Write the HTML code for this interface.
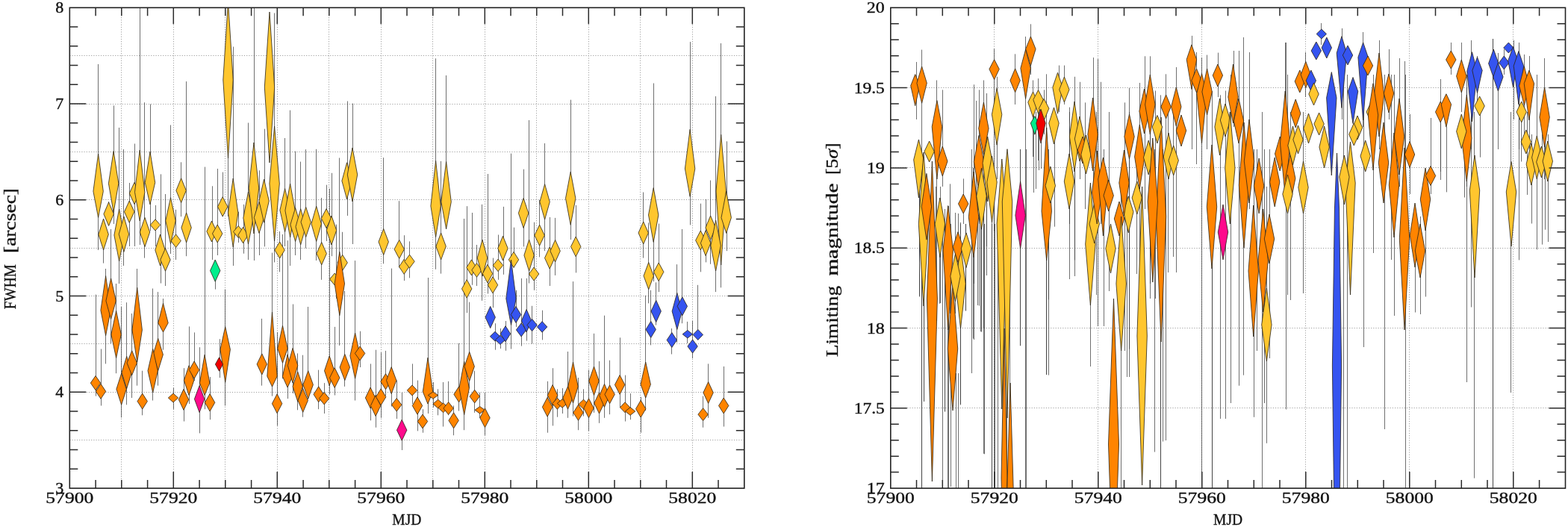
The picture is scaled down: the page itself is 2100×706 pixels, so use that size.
<!DOCTYPE html>
<html><head><meta charset="utf-8"><title>FWHM and limiting magnitude vs MJD</title>
<style>html,body{margin:0;padding:0;background:#fff;overflow:hidden;}svg{display:block;}
polygon{stroke:#2a2418;stroke-width:0.9;stroke-opacity:0.9;}text{white-space:pre;}</style></head>
<body>
<svg width="2100" height="706" viewBox="0 0 2100 706" font-family="'Liberation Serif', serif" font-size="20" fill="#111" stroke="#111" stroke-width="0.35">
<defs>
<clipPath id="cl"><rect x="93.3" y="10.3" width="903.5" height="643.8000000000001"/></clipPath>
<clipPath id="cr"><rect x="1192.8" y="10.3" width="903.7" height="643.8000000000001"/></clipPath>
</defs>
<g stroke-linejoin="miter">
<g><path d="M162.5 10.3V654.1M232.5 10.3V654.1M301.5 10.3V654.1M371.5 10.3V654.1M440.5 10.3V654.1M510.5 10.3V654.1M579.5 10.3V654.1M649.5 10.3V654.1M718.5 10.3V654.1M788.5 10.3V654.1M857.5 10.3V654.1M927.5 10.3V654.1M93.3 589.5H996.8M93.3 525.5H996.8M93.3 460.5H996.8M93.3 396.5H996.8M93.3 332.5H996.8M93.3 267.5H996.8M93.3 203.5H996.8M93.3 139.5H996.8M93.3 74.5H996.8" stroke="#a0a0a0" stroke-width="1" stroke-dasharray="1.2 2" fill="none"/>
<g clip-path="url(#cl)">
<path d="M128.5 394.6V530.6M131.5 86V335M135.5 467.5V543.5M138.5 294V352.6M141.5 360V487.4M145.5 270V300M148.5 307V460M152.5 141.4V300M155.5 380V500.2M159.5 171V380M162.5 411V559.4M165.5 200V356M169.5 405.2V542.3M173.5 245V330M176.5 420V533M180.5 192.5V330M183.5 360V516.6M187.5 10.5V328M190.5 496.7V556.3M193.5 137.2V345.6M201.5 139.5V309.3M204.5 386.5V536.5M208.5 275V330M211.5 391.1V516.6M215.5 233.4V379.5M218.5 400V468.7M221.5 260V383M228.5 167.5V340M232.5 519.6V548.2M235.5 280.9V348M242.5 217.3V290.2M246.5 493.2V564.5M249.5 109.1V343.2M253.5 437.4V541.1M260.5 445.4V510M267.5 465.2V580.4M274.5 223.6V548.2M281.5 505V562.2M284.5 249.3V348M288.5 350V387.6M291.5 226V342M294.5 454.2V506M298.5 230.6V290M301.5 387.6V543.5M305.5 212V290M312.5 62.6V356M319.5 283.7V325M326.5 273.9V339.7M332.5 164.5V348M340.5 10.5V349M347.5 228.3V342M350.5 426.9V516.6M354.5 172.7V330.4M364.5 338.6V530.6M367.5 17.5V351.4M371.5 445V570.4M374.5 310V364.3M378.5 314V507.3M381.5 185V330M385.5 322.2V534.1M388.5 147.7V356M392.5 407.5V527.1M395.5 202.6V342M398.5 473.4V549.3M402.5 216.6V348M405.5 475.7V558.7M409.5 200.2V332.7M412.5 411V535M423.5 199.8V349M426.5 495.6V548.2M430.5 265V374.8M434.5 513.1V554M437.5 247.7V323M441.5 252.8V528.3M444.5 231.8V343.2M448.5 437.9V529.5M450.5 300.7V400M454.5 211.5V462.9M458.5 310.8V363M461.5 390V517.8M465.5 135.5V289M472.5 138.6V327M475.5 349.1V536.5M482.5 443.7V492M496.5 487.4V563.3M503.5 468.7V572.7M510.5 472.2V559.8M513.5 211.2V353.3M516.5 469.9V530M524.5 359.6V544.6M531.5 509.6V561M534.5 269.2V358.4M538.5 526V603M541.5 315.2V376M548.5 323.4V372.4M552.5 487.4V541.1M559.5 509.6V577.4M566.5 548.2V579.7M573.5 372V554M580.5 512V545.8M583.5 78.3V360.8M586.5 521.3V556.3M590.5 215.9V366.6M593.5 512V571.5M597.5 101V307M600.5 510.8V556.3M607.5 543.5V583.2M614.5 459.8V550.5M621.5 293V576.2M625.5 276.2V419.2M628.5 404.7V520M632.5 285V381.8M635.5 496.7V552.8M638.5 328V383M642.5 526V560M645.5 273.9V402.8M649.5 526V583.2M653.5 233V393.5M660.5 345.6V412.2M663.5 433.2V468.7M667.5 314.5V374.8M670.5 440V467M674.5 276.9V367.8M677.5 430V469.8M684.5 205.6V467.5M688.5 304.7V358.4M691.5 388.8V437.9M698.5 372.9V463.6M701.5 226.7V330.4M705.5 372.9V456.6M708.5 161V379.5M712.5 409.8V460.5M715.5 297.7V388.8M722.5 268V344.4M726.5 415.7V455.4M729.5 192V336.2M733.5 510.8V579.7M736.5 291V383M740.5 493.2V570.4M743.5 291.9V368.9M746.5 521.3V558.7M753.5 520.1V554M760.5 471V559.8M764.5 133.7V321M767.5 377.1V557.5M771.5 275V365.4M774.5 506V576.2M781.5 521.3V557.5M788.5 495.6V577.4M795.5 446.8V552.8M802.5 483.9V566.8M809.5 422.7V559.8M816.5 482.7V555.2M830.5 452.3V545.8M837.5 502.6V564.5M844.5 527.1V562.2M858.5 531.8V579.7M861.5 257.5V345.6M864.5 395.8V550M868.5 298.4V406.3M871.5 388.8V462.4M875.5 111.5V377.1M878.5 378.3V435.5M882.5 299.6V391.1M899.5 440V474.5M906.5 354.2V458.9M913.5 307V433.2M920.5 430.9V460M924.5 56.1V301.4M927.5 429.7V480M934.5 381.8V455.4M938.5 272.7V364.3M941.5 530.6V572.7M945.5 266.8V351.4M948.5 487.4V559.8M951.5 241.6V353.8M958.5 129V391.1M965.5 58V385.3M969.5 490.9V571.5M973.5 189.3V336.2" stroke="#333" stroke-opacity="0.7" stroke-width="1" fill="none"/>
<polygon points="305.5,2 312.2,107 305.5,212 298.8,107" fill="#FFC62E"/>
<polygon points="361,16 367.7,117 361,218 354.3,117" fill="#FFC62E"/>
<polygon points="131.6,206 138.3,256.3 131.6,291.4 124.9,256.3" fill="#FFC62E"/>
<polygon points="152.1,202.6 158.8,245.8 152.1,284.4 145.4,245.8" fill="#FFC62E"/>
<polygon points="145.6,270.9 152.3,286.7 145.6,302.5 138.9,286.7" fill="#FFC62E"/>
<polygon points="138.6,293 145.3,314 138.6,335 131.9,314" fill="#FFC62E"/>
<polygon points="159.6,280 166.3,315 159.6,350 152.9,315" fill="#FFC62E"/>
<polygon points="165.9,290 172.6,313.7 165.9,337.4 159.2,313.7" fill="#FFC62E"/>
<polygon points="173.2,269.1 179.9,283.7 173.2,298.3 166.5,283.7" fill="#FFC62E"/>
<polygon points="180,244.4 186.7,259 180,273.6 173.3,259" fill="#FFC62E"/>
<polygon points="187.2,201 193.9,257.5 187.2,296 180.5,257.5" fill="#FFC62E"/>
<polygon points="201,203.3 207.7,244.6 201,273.9 194.3,244.6" fill="#FFC62E"/>
<polygon points="194,291.5 200.7,311 194,330.5 187.3,311" fill="#FFC62E"/>
<polygon points="208,293.8 214.7,301.4 208,309 201.3,301.4" fill="#FFC62E"/>
<polygon points="214.5,314 221.2,335 214.5,356 207.8,335" fill="#FFC62E"/>
<polygon points="221.5,332.8 228.2,348 221.5,363.2 214.8,348" fill="#FFC62E"/>
<polygon points="235.6,313.9 242.3,322.7 235.6,331.5 228.9,322.7" fill="#FFC62E"/>
<polygon points="228.5,264.7 235.2,295.7 228.5,326.7 221.8,295.7" fill="#FFC62E"/>
<polygon points="242.6,238.8 249.3,255.2 242.6,271.6 235.9,255.2" fill="#FFC62E"/>
<polygon points="249.6,285 256.3,305 249.6,325 242.9,305" fill="#FFC62E"/>
<polygon points="283.5,296 290.2,310 283.5,324 276.8,310" fill="#FFC62E"/>
<polygon points="291.2,301 297.9,313 291.2,325 284.5,313" fill="#FFC62E"/>
<polygon points="298.2,263.7 304.9,276.9 298.2,290.1 291.5,276.9" fill="#FFC62E"/>
<polygon points="312.2,239 318.9,285 312.2,331 305.5,285" fill="#FFC62E"/>
<polygon points="319.2,302.5 325.9,310.5 319.2,318.5 312.5,310.5" fill="#FFC62E"/>
<polygon points="325.5,304.3 332.2,315 325.5,325.7 318.8,315" fill="#FFC62E"/>
<polygon points="332.5,257 339.2,292 332.5,327 325.8,292" fill="#FFC62E"/>
<polygon points="340,191 346.7,252 340,313 333.3,252" fill="#FFC62E"/>
<polygon points="347,270.4 353.7,291.4 347,312.4 340.3,291.4" fill="#FFC62E"/>
<polygon points="353.6,240.2 360.3,269.2 353.6,298.2 346.9,269.2" fill="#FFC62E"/>
<polygon points="367.6,169 374.3,246 367.6,323 360.9,246" fill="#FFC62E"/>
<polygon points="374.6,324 381.3,335 374.6,346 367.9,335" fill="#FFC62E"/>
<polygon points="381.6,252.6 388.3,281.6 381.6,310.6 374.9,281.6" fill="#FFC62E"/>
<polygon points="388.6,246 395.3,282 388.6,318 381.9,282" fill="#FFC62E"/>
<polygon points="395.6,278.5 402.3,301 395.6,323.5 388.9,301" fill="#FFC62E"/>
<polygon points="402.7,279.8 409.4,303.8 402.7,327.8 396,303.8" fill="#FFC62E"/>
<polygon points="409.7,277.5 416.4,297.5 409.7,317.5 403,297.5" fill="#FFC62E"/>
<polygon points="423.7,276.2 430.4,299.8 423.7,323.4 417,299.8" fill="#FFC62E"/>
<polygon points="430.7,324.5 437.4,339.7 430.7,354.9 424,339.7" fill="#FFC62E"/>
<polygon points="437,279.7 443.7,292.6 437,305.5 430.3,292.6" fill="#FFC62E"/>
<polygon points="444,289 450.7,308.5 444,328 437.3,308.5" fill="#FFC62E"/>
<polygon points="464.6,217.8 471.3,242.3 464.6,266.8 457.9,242.3" fill="#FFC62E"/>
<polygon points="472,198 478.7,234 472,270 465.3,234" fill="#FFC62E"/>
<polygon points="458.7,341.4 465.4,351.9 458.7,362.4 452,351.9" fill="#FFC62E"/>
<polygon points="448.2,366 454.9,374 448.2,382 441.5,374" fill="#FFC62E"/>
<polygon points="513.7,306.5 520.4,324 513.7,341.5 507,324" fill="#FFC62E"/>
<polygon points="534.7,321.4 541.4,333.9 534.7,346.4 528,333.9" fill="#FFC62E"/>
<polygon points="541.2,347.3 547.9,357.3 541.2,367.3 534.5,357.3" fill="#FFC62E"/>
<polygon points="548.5,341.2 555.2,350.2 548.5,359.2 541.8,350.2" fill="#FFC62E"/>
<polygon points="583.6,215.4 590.3,276 583.6,317.5 576.9,276" fill="#FFC62E"/>
<polygon points="597.6,216.6 604.3,270.4 597.6,306.6 590.9,270.4" fill="#FFC62E"/>
<polygon points="590.6,312 597.3,330 590.6,348 583.9,330" fill="#FFC62E"/>
<polygon points="701.1,265.5 707.8,285.5 701.1,305.5 694.4,285.5" fill="#FFC62E"/>
<polygon points="729.6,246.7 736.3,270.4 729.6,294.1 722.9,270.4" fill="#FFC62E"/>
<polygon points="722.6,301.2 729.3,315.2 722.6,329.2 715.9,315.2" fill="#FFC62E"/>
<polygon points="764.2,230.1 770.9,265.7 764.2,301.3 757.5,265.7" fill="#FFC62E"/>
<polygon points="861.7,297 868.4,312 861.7,327 855,312" fill="#FFC62E"/>
<polygon points="875.2,251.6 881.9,288 875.2,324.4 868.5,288" fill="#FFC62E"/>
<polygon points="924.1,173.4 930.8,226 924.1,263.3 917.4,226" fill="#FFC62E"/>
<polygon points="965.7,180.4 972.4,256 965.7,355 959,256" fill="#FFC62E"/>
<polygon points="972.7,256.3 979.4,291.6 972.7,312.4 966,291.6" fill="#FFC62E"/>
<polygon points="951.6,289 958.3,305 951.6,321 944.9,305" fill="#FFC62E"/>
<polygon points="958.6,295 965.3,329 958.6,363 951.9,329" fill="#FFC62E"/>
<polygon points="938.3,309 945,322 938.3,335 931.6,322" fill="#FFC62E"/>
<polygon points="945.1,308.7 951.8,325.7 945.1,342.7 938.4,325.7" fill="#FFC62E"/>
<polygon points="673.5,316.3 680.2,332.7 673.5,349.1 666.8,332.7" fill="#FFC62E"/>
<polygon points="625.2,374.6 631.9,386.9 625.2,399.2 618.5,386.9" fill="#FFC62E"/>
<polygon points="631.5,347.9 638.2,358.4 631.5,368.9 624.8,358.4" fill="#FFC62E"/>
<polygon points="638.5,352.5 645.2,361.9 638.5,371.3 631.8,361.9" fill="#FFC62E"/>
<polygon points="646,321.1 652.7,345.6 646,370.1 639.3,345.6" fill="#FFC62E"/>
<polygon points="653,354.3 659.7,366.6 653,378.9 646.3,366.6" fill="#FFC62E"/>
<polygon points="660,370.8 666.7,381.8 660,392.8 653.3,381.8" fill="#FFC62E"/>
<polygon points="667,347.2 673.7,355.4 667,363.6 660.3,355.4" fill="#FFC62E"/>
<polygon points="688,337.4 694.7,347.9 688,358.4 681.3,347.9" fill="#FFC62E"/>
<polygon points="708.6,321 715.3,342 708.6,363 701.9,342" fill="#FFC62E"/>
<polygon points="715.1,358 721.8,367 715.1,376 708.4,367" fill="#FFC62E"/>
<polygon points="736.2,331 742.9,345.6 736.2,360.2 729.5,345.6" fill="#FFC62E"/>
<polygon points="743.6,321.4 750.3,336.2 743.6,351 736.9,336.2" fill="#FFC62E"/>
<polygon points="771.2,317 777.9,330.4 771.2,343.8 764.5,330.4" fill="#FFC62E"/>
<polygon points="868.7,351.5 875.4,369.6 868.7,387.7 862,369.6" fill="#FFC62E"/>
<polygon points="882.2,352 888.9,364.3 882.2,376.6 875.5,364.3" fill="#FFC62E"/>
<polygon points="141.6,369.6 148.3,415.7 141.6,449.6 134.9,415.7" fill="#FF8400"/>
<polygon points="148.6,372.9 155.3,403 148.6,427.4 141.9,403" fill="#FF8400"/>
<polygon points="155.6,416.5 162.3,448 155.6,479.5 148.9,448" fill="#FF8400"/>
<polygon points="183.7,385.3 190.4,442 183.7,485 177,442" fill="#FF8400"/>
<polygon points="218.5,406.3 225.2,432.7 218.5,444.9 211.8,432.7" fill="#FF8400"/>
<polygon points="211.7,453.4 218.4,475 211.7,496.6 205,475" fill="#FF8400"/>
<polygon points="204.7,467.5 211.4,496.7 204.7,525.9 198,496.7" fill="#FF8400"/>
<polygon points="301.7,437.7 308.4,468.2 301.7,512.2 295,468.2" fill="#FF8400"/>
<polygon points="364.5,418 371.2,504 364.5,518 357.8,504" fill="#FF8400"/>
<polygon points="378.5,436.3 385.2,466.9 378.5,486.2 371.8,466.9" fill="#FF8400"/>
<polygon points="475.6,446 482.3,476.6 475.6,507.2 468.9,476.6" fill="#FF8400"/>
<polygon points="454.8,337.3 461.5,380 454.8,422.7 448.1,380" fill="#FF8400"/>
<polygon points="128,503.5 134.7,513.1 128,522.7 121.3,513.1" fill="#FF8400"/>
<polygon points="135,514.3 141.7,524.3 135,534.3 128.3,524.3" fill="#FF8400"/>
<polygon points="162.6,500.3 169.3,521.3 162.6,542.3 155.9,521.3" fill="#FF8400"/>
<polygon points="169.7,477.4 176.4,499 169.7,520.6 163,499" fill="#FF8400"/>
<polygon points="176.7,469.8 183.4,486.2 176.7,502.6 170,486.2" fill="#FF8400"/>
<polygon points="190.7,527.1 197.4,537.6 190.7,548.1 184,537.6" fill="#FF8400"/>
<polygon points="232,527 238.7,533 232,539 225.3,533" fill="#FF8400"/>
<polygon points="246,521.3 252.7,535.3 246,549.3 239.3,535.3" fill="#FF8400"/>
<polygon points="253.1,489.7 259.8,509.6 253.1,529.5 246.4,509.6" fill="#FF8400"/>
<polygon points="260.1,483.9 266.8,495.6 260.1,507.3 253.4,495.6" fill="#FF8400"/>
<polygon points="274.1,475.2 280.8,513.1 274.1,529.5 267.4,513.1" fill="#FF8400"/>
<polygon points="281.1,527.6 287.8,539.3 281.1,551 274.4,539.3" fill="#FF8400"/>
<polygon points="350.8,473.9 357.5,487.9 350.8,501.9 344.1,487.9" fill="#FF8400"/>
<polygon points="371.1,527.8 377.8,540.7 371.1,553.6 364.4,540.7" fill="#FF8400"/>
<polygon points="385.1,474.8 391.8,504.3 385.1,519 378.4,504.3" fill="#FF8400"/>
<polygon points="392.1,466.3 398.8,489.7 392.1,513.1 385.4,489.7" fill="#FF8400"/>
<polygon points="398.7,497.9 405.4,517.8 398.7,537.7 392,517.8" fill="#FF8400"/>
<polygon points="405.7,520.7 412.4,536.5 405.7,552.3 399,536.5" fill="#FF8400"/>
<polygon points="412.7,496.7 419.4,515.4 412.7,534.1 406,515.4" fill="#FF8400"/>
<polygon points="426.7,517.8 433.4,528.3 426.7,538.8 420,528.3" fill="#FF8400"/>
<polygon points="434.2,525.5 440.9,533.7 434.2,541.9 427.5,533.7" fill="#FF8400"/>
<polygon points="441.2,476.8 447.9,496.7 441.2,516.6 434.5,496.7" fill="#FF8400"/>
<polygon points="448.2,492.7 454.9,506.1 448.2,519.5 441.5,506.1" fill="#FF8400"/>
<polygon points="461.8,474.5 468.5,492 461.8,509.5 455.1,492" fill="#FF8400"/>
<polygon points="482.1,464 488.8,473.4 482.1,482.8 475.4,473.4" fill="#FF8400"/>
<polygon points="496.1,519 502.8,533 496.1,547 489.4,533" fill="#FF8400"/>
<polygon points="503.1,529.5 509.8,543.5 503.1,557.5 496.4,543.5" fill="#FF8400"/>
<polygon points="510.2,520.8 516.9,531.8 510.2,542.8 503.5,531.8" fill="#FF8400"/>
<polygon points="516.5,500.7 523.2,511.2 516.5,521.7 509.8,511.2" fill="#FF8400"/>
<polygon points="524.2,491.6 530.9,509.6 524.2,527.6 517.5,509.6" fill="#FF8400"/>
<polygon points="531.2,533.5 537.9,542.3 531.2,551.1 524.5,542.3" fill="#FF8400"/>
<polygon points="552,515.9 558.7,522.9 552,529.9 545.3,522.9" fill="#FF8400"/>
<polygon points="559,531.8 565.7,543.5 559,555.2 552.3,543.5" fill="#FF8400"/>
<polygon points="566,555.1 572.7,564.5 566,573.9 559.3,564.5" fill="#FF8400"/>
<polygon points="573,479.2 579.7,524.8 573,541.1 566.3,524.8" fill="#FF8400"/>
<polygon points="580,524.8 586.7,529.5 580,534.2 573.3,529.5" fill="#FF8400"/>
<polygon points="586.6,535.3 593.3,541.1 586.6,546.9 579.9,541.1" fill="#FF8400"/>
<polygon points="593.6,539.9 600.3,546.3 593.6,552.7 586.9,546.3" fill="#FF8400"/>
<polygon points="600.6,538.6 607.3,547 600.6,555.4 593.9,547" fill="#FF8400"/>
<polygon points="607.6,552.8 614.3,563.3 607.6,573.8 600.9,563.3" fill="#FF8400"/>
<polygon points="614.6,517.8 621.3,528.3 614.6,538.8 607.9,528.3" fill="#FF8400"/>
<polygon points="621.7,484.4 628.4,520 621.7,555.6 615,520" fill="#FF8400"/>
<polygon points="628.7,471.4 635.4,490.9 628.7,510.4 622,490.9" fill="#FF8400"/>
<polygon points="635.7,522.3 642.4,531.1 635.7,539.9 629,531.1" fill="#FF8400"/>
<polygon points="642.7,544.6 649.4,549.3 642.7,554 636,549.3" fill="#FF8400"/>
<polygon points="649.5,546.9 656.2,559.8 649.5,572.7 642.8,559.8" fill="#FF8400"/>
<polygon points="733.1,532.4 739.8,545.3 733.1,558.2 726.4,545.3" fill="#FF8400"/>
<polygon points="740.1,515.5 746.8,529.5 740.1,543.5 733.4,529.5" fill="#FF8400"/>
<polygon points="746.4,533.1 753.1,540.7 746.4,548.3 739.7,540.7" fill="#FF8400"/>
<polygon points="753,534.6 759.7,540.4 753,546.2 746.3,540.4" fill="#FF8400"/>
<polygon points="760.5,517.8 767.2,533 760.5,548.2 753.8,533" fill="#FF8400"/>
<polygon points="767.5,485 774.2,517.8 767.5,540 760.8,517.8" fill="#FF8400"/>
<polygon points="774.5,542.3 781.2,552.8 774.5,563.3 767.8,552.8" fill="#FF8400"/>
<polygon points="781.5,535.2 788.2,541.6 781.5,548 774.8,541.6" fill="#FF8400"/>
<polygon points="788.5,533.8 795.2,546.8 788.5,559.8 781.8,546.8" fill="#FF8400"/>
<polygon points="795.5,491 802.2,510.3 795.5,529.6 788.8,510.3" fill="#FF8400"/>
<polygon points="802.5,526 809.2,540 802.5,554 795.8,540" fill="#FF8400"/>
<polygon points="809.5,514.4 816.2,529.9 809.5,545.4 802.8,529.9" fill="#FF8400"/>
<polygon points="816.6,515.9 823.3,528.3 816.6,540.7 809.9,528.3" fill="#FF8400"/>
<polygon points="830.1,502.5 836.8,515.4 830.1,528.3 823.4,515.4" fill="#FF8400"/>
<polygon points="837.1,538.8 843.8,545.8 837.1,552.8 830.4,545.8" fill="#FF8400"/>
<polygon points="844.1,545.7 850.8,551 844.1,556.3 837.4,551" fill="#FF8400"/>
<polygon points="858.2,536.2 864.9,547.7 858.2,559.2 851.5,547.7" fill="#FF8400"/>
<polygon points="864.7,485 871.4,515 864.7,533 858,515" fill="#FF8400"/>
<polygon points="941.6,546.7 948.3,555.2 941.6,563.7 934.9,555.2" fill="#FF8400"/>
<polygon points="948.6,511.6 955.3,526 948.6,540.4 941.9,526" fill="#FF8400"/>
<polygon points="969.2,533 975.9,543.5 969.2,554 962.5,543.5" fill="#FF8400"/>
<polygon points="656.7,410.4 663.4,425 656.7,439.6 650,425" fill="#3554F0"/>
<polygon points="663,444.3 669.7,450.7 663,457.1 656.3,450.7" fill="#3554F0"/>
<polygon points="670,449.4 676.7,455.4 670,461.4 663.3,455.4" fill="#3554F0"/>
<polygon points="677,436.7 683.7,447.2 677,457.7 670.3,447.2" fill="#3554F0"/>
<polygon points="684.5,348 691.2,400 684.5,435.5 677.8,400" fill="#3554F0"/>
<polygon points="691,410.5 697.7,421.5 691,432.5 684.3,421.5" fill="#3554F0"/>
<polygon points="698.1,432.9 704.8,441.9 698.1,450.9 691.4,441.9" fill="#3554F0"/>
<polygon points="705.1,414.5 711.8,429.7 705.1,444.9 698.4,429.7" fill="#3554F0"/>
<polygon points="712.6,427.3 719.3,435.5 712.6,443.7 705.9,435.5" fill="#3554F0"/>
<polygon points="726.1,430.6 732.8,437.9 726.1,445.2 719.4,437.9" fill="#3554F0"/>
<polygon points="871.7,430.4 878.4,441.4 871.7,452.4 865,441.4" fill="#3554F0"/>
<polygon points="878.7,402.3 885.4,416.9 878.7,431.5 872,416.9" fill="#3554F0"/>
<polygon points="906.8,392.4 913.5,416.9 906.8,441.4 900.1,416.9" fill="#3554F0"/>
<polygon points="913.8,397.8 920.5,410.3 913.8,422.8 907.1,410.3" fill="#3554F0"/>
<polygon points="899.8,445.5 906.5,455.5 899.8,465.5 893.1,455.5" fill="#3554F0"/>
<polygon points="920.8,442.4 927.5,447.7 920.8,453 914.1,447.7" fill="#3554F0"/>
<polygon points="927.6,454.9 934.3,464 927.6,473.1 920.9,464" fill="#3554F0"/>
<polygon points="934.8,441.4 941.5,448.4 934.8,455.4 928.1,448.4" fill="#3554F0"/>
<polygon points="288.2,348 294.9,362.6 288.2,377.2 281.5,362.6" fill="#00EE8C"/>
<polygon points="293.5,478.8 298.6,488 293.5,497.2 288.4,488" fill="#F00000"/>
<polygon points="267.1,516.6 273.8,534.6 267.1,552.6 260.4,534.6" fill="#FF0A8C"/>
<polygon points="538.2,562.2 544.9,576.2 538.2,590.2 531.5,576.2" fill="#FF0A8C"/>
</g>
<path d="M128.1 654.1v-11M128.1 10.3v11M162.8 654.1v-11M162.8 10.3v11M197.6 654.1v-11M197.6 10.3v11M232.3 654.1v-22M232.3 10.3v22M267.1 654.1v-11M267.1 10.3v11M301.8 654.1v-11M301.8 10.3v11M336.6 654.1v-11M336.6 10.3v11M371.3 654.1v-22M371.3 10.3v22M406.1 654.1v-11M406.1 10.3v11M440.8 654.1v-11M440.8 10.3v11M475.6 654.1v-11M475.6 10.3v11M510.3 654.1v-22M510.3 10.3v22M545 654.1v-11M545 10.3v11M579.8 654.1v-11M579.8 10.3v11M614.5 654.1v-11M614.5 10.3v11M649.3 654.1v-22M649.3 10.3v22M684 654.1v-11M684 10.3v11M718.8 654.1v-11M718.8 10.3v11M753.5 654.1v-11M753.5 10.3v11M788.3 654.1v-22M788.3 10.3v22M823 654.1v-11M823 10.3v11M857.8 654.1v-11M857.8 10.3v11M892.5 654.1v-11M892.5 10.3v11M927.3 654.1v-22M927.3 10.3v22M962 654.1v-11M962 10.3v11M93.3 628.3h11M996.8 628.3h-11M93.3 602.6h11M996.8 602.6h-11M93.3 576.8h11M996.8 576.8h-11M93.3 551.1h11M996.8 551.1h-11M93.3 525.3h22M996.8 525.3h-22M93.3 499.6h11M996.8 499.6h-11M93.3 473.8h11M996.8 473.8h-11M93.3 448.1h11M996.8 448.1h-11M93.3 422.3h11M996.8 422.3h-11M93.3 396.6h22M996.8 396.6h-22M93.3 370.8h11M996.8 370.8h-11M93.3 345.1h11M996.8 345.1h-11M93.3 319.3h11M996.8 319.3h-11M93.3 293.6h11M996.8 293.6h-11M93.3 267.8h22M996.8 267.8h-22M93.3 242.1h11M996.8 242.1h-11M93.3 216.3h11M996.8 216.3h-11M93.3 190.6h11M996.8 190.6h-11M93.3 164.8h11M996.8 164.8h-11M93.3 139.1h22M996.8 139.1h-22M93.3 113.3h11M996.8 113.3h-11M93.3 87.6h11M996.8 87.6h-11M93.3 61.8h11M996.8 61.8h-11M93.3 36.1h11M996.8 36.1h-11" stroke="#2a2a2a" stroke-width="1.5" fill="none"/>
<rect x="93.3" y="10.3" width="903.5" height="643.8" fill="none" stroke="#222" stroke-width="1.6"/>
<text x="85.3" y="661.1" text-anchor="end" textLength="11" lengthAdjust="spacingAndGlyphs">3</text>
<text x="85.3" y="532.3" text-anchor="end" textLength="11" lengthAdjust="spacingAndGlyphs">4</text>
<text x="85.3" y="403.6" text-anchor="end" textLength="11" lengthAdjust="spacingAndGlyphs">5</text>
<text x="85.3" y="274.8" text-anchor="end" textLength="11" lengthAdjust="spacingAndGlyphs">6</text>
<text x="85.3" y="146.1" text-anchor="end" textLength="11" lengthAdjust="spacingAndGlyphs">7</text>
<text x="85.3" y="17.3" text-anchor="end" textLength="11" lengthAdjust="spacingAndGlyphs">8</text>
<text x="93.3" y="674.3" text-anchor="middle" textLength="64" lengthAdjust="spacingAndGlyphs">57900</text>
<text x="232.3" y="674.3" text-anchor="middle" textLength="64" lengthAdjust="spacingAndGlyphs">57920</text>
<text x="371.3" y="674.3" text-anchor="middle" textLength="64" lengthAdjust="spacingAndGlyphs">57940</text>
<text x="510.3" y="674.3" text-anchor="middle" textLength="64" lengthAdjust="spacingAndGlyphs">57960</text>
<text x="649.3" y="674.3" text-anchor="middle" textLength="64" lengthAdjust="spacingAndGlyphs">57980</text>
<text x="788.3" y="674.3" text-anchor="middle" textLength="64" lengthAdjust="spacingAndGlyphs">58000</text>
<text x="927.3" y="674.3" text-anchor="middle" textLength="64" lengthAdjust="spacingAndGlyphs">58020</text></g>
<g><path d="M1331.5 10.3V654.1M1470.5 10.3V654.1M1609.5 10.3V654.1M1748.5 10.3V654.1M1887.5 10.3V654.1M2026.5 10.3V654.1M1192.8 546.5H2096.5M1192.8 439.5H2096.5M1192.8 332.5H2096.5M1192.8 224.5H2096.5M1192.8 117.5H2096.5" stroke="#a0a0a0" stroke-width="1" stroke-dasharray="1.2 2" fill="none"/>
<g clip-path="url(#cr)">
<path d="M1929.5 160V241M1937.5 170V257.4M1961.5 150V264.5M1982.5 150V210.7M2037.5 150V216.5M2045.5 150V261M2051.5 180V299.5M2065.5 180V327.6M2069.5 180V307.7M2073.5 180V324M1231.5 200V396.7M1253.5 250V406M1259.5 250V406M1265.5 300V551M1269.5 300V655M1286.5 300V541.7M1293.5 300V416.6M1304.5 300V455M1311.5 250V409.6M1314.5 300V444.6M1318.5 300V608.3M1328.5 300V655M1332.5 300V655M1336.5 300V655M1352.5 300V655M1366.5 200V463.3M1374.5 200V655M1401.5 300V502M1404.5 300V401.4M1234.5 300V655M1237.5 400V538M1280.5 500V655M1283.5 500V655M1384.5 150V258M1387.5 150V253M1391.5 150V228M1394.5 190V226M1412.5 150V303.7M1272.5 246.4V420M1279.5 285V420M1283.5 286V400M1286.5 298V420M1290.5 239.4V300M1301.5 200V500M1227.5 83V160M1234.5 66.6V655M1254.5 107.5V430M1262.5 120.4V250M1304.5 113.3V380M1307.5 135V310M1311.5 120.4V300M1317.5 107.5V440M1321.5 125V330M1331.5 65.4V310M1335.5 102.8V240M1359.5 72.4V140M1373.5 49V655M1380.5 32.3V100M1383.5 107.5V210M1390.5 105.2V215M1398.5 120.4V180M1401.5 99.3V502M1418.5 87.6V150M1425.5 87.6V140M1432.5 143.7V300M1439.5 102.8V370M1446.5 109.8V240M1453.5 137.4V280M1464.5 77.1V270M1470.5 79V437M1474.5 109.8V300M1506.5 137.4V470M1512.5 118V505M1526.5 111V380M1533.5 75.3V280M1540.5 75.3V380M1547.5 121.5V400M1554.5 127.4V655M1561.5 99.3V590M1575.5 90V365M1596.5 47.9V200M1602.5 70.1V220M1609.5 77.1V655M1616.5 73.6V200M1623.5 122V655M1631.5 70.6V130M1634.5 127.4V250M1641.5 121.5V561M1231.5 200V397.5M1237.5 250V537.7M1258.5 280V406.8M1262.5 300V655M1265.5 280V551.7M1270.5 276V655M1273.5 300V652M1286.5 350V542.4M1293.5 300V416M1303.5 225V453.6M1309.5 250V409M1313.5 200V444.2M1317.5 250V607.8M1321.5 250V369M1328.5 250V655M1331.5 250V655M1348.5 250V655M1366.5 200V463M1404.5 200V502.6M1432.5 150V374M1439.5 150V348.4M1460.5 250V491M1468.5 150V395M1478.5 200V437M1485.5 150V390M1501.5 250V655M1509.5 250V505M1512.5 150V467.6M1522.5 200V367M1540.5 150V400M1546.5 200V605.5M1554.5 160V655M1557.5 200V591.5M1564.5 150V365M1571.5 150V344M1623.5 194V655M1634.5 250V561M1648.5 100V540M1659.5 68V516.7M1665.5 50V502.6M1679.5 200V558.8M1683.5 200V470M1690.5 150V655M1693.5 200V540M1696.5 250V593.8M1700.5 200V480M1722.5 57V548.5M1724.5 100V395M1728.5 150V402M1745.5 150V393M1799.5 100V655M1804.5 100V655M1826.5 100V465M1839.5 100V339M1854.5 100V575M1863.5 100V348M1867.5 100V423M1882.5 100V655M1895.5 280V418.5M1902.5 290V421M1909.5 230V397.5M1964.5 100V512M1970.5 100V411.5M1974.5 150V640.6M1999.5 52V655M2023.5 150V526M2034.5 100V348.4M2058.5 100V334.4M1652.5 68V170M1673.5 70V280M1721.5 57V250M1748.5 70V130M1769.5 31V60M1797.5 38V160M1825.5 43V170M1847.5 54V200M1860.5 66V160M1874.5 78V250M1881.5 82V300M1888.5 153V260M1916.5 158V260M1929.5 106V230M1943.5 57V100M1957.5 57V150M1964.5 117V250M1970.5 54V200M1978.5 75V140M1999.5 52V655M2006.5 71V200M2014.5 66V100M2027.5 54V160M2034.5 57V200M2041.5 73V180M2048.5 75V200M2068.5 78V240" stroke="#333" stroke-opacity="0.7" stroke-width="1" fill="none"/>
<polygon points="1225.7,99.6 1231.7,114.8 1225.7,141.7 1219.7,114.8" fill="#FF8400"/>
<polygon points="1234.6,89 1241.3,111.3 1234.6,138.2 1227.9,111.3" fill="#FF8400"/>
<polygon points="1230.4,187 1237.1,214 1230.4,265 1223.7,214" fill="#FFC62E"/>
<polygon points="1244.6,189 1251.3,203 1244.6,217 1237.9,203" fill="#FFC62E"/>
<polygon points="1254.9,134.6 1261.6,169.7 1254.9,240 1248.2,169.7" fill="#FF8400"/>
<polygon points="1262.3,196 1269,216 1262.3,236 1255.6,216" fill="#FF8400"/>
<polygon points="1248.4,216 1255.4,400 1248.4,645 1241.4,400" fill="#FF8400"/>
<polygon points="1237,204 1243.7,300 1237,410 1230.3,300" fill="#FFC62E"/>
<polygon points="1240.9,232.4 1247.6,276.8 1240.9,321.2 1234.2,276.8" fill="#FF8400"/>
<polygon points="1258.9,265 1265.6,300 1258.9,344.6 1252.2,300" fill="#FFC62E"/>
<polygon points="1269.7,275.6 1276.4,335 1269.7,442 1263,335" fill="#FF8400"/>
<polygon points="1276,380 1282.7,467 1276,550 1269.3,467" fill="#FF8400"/>
<polygon points="1286.5,330 1293.2,380 1286.5,440 1279.8,380" fill="#FFC62E"/>
<polygon points="1279.5,340 1286.2,370 1279.5,403.7 1272.8,370" fill="#FFC62E"/>
<polygon points="1283,310.7 1289.7,330.5 1283,351.6 1276.3,330.5" fill="#FF8400"/>
<polygon points="1290.2,260 1296.9,273 1290.2,286 1283.5,273" fill="#FF8400"/>
<polygon points="1294,311.9 1300.7,332.9 1294,358.6 1287.3,332.9" fill="#FFC62E"/>
<polygon points="1304,230 1310.7,290.8 1304,344.6 1297.3,290.8" fill="#FF8400"/>
<polygon points="1311,181.5 1317.7,216.6 1311,256 1304.3,216.6" fill="#FF8400"/>
<polygon points="1317.4,137 1324.1,172 1317.4,207 1310.7,172" fill="#FF8400"/>
<polygon points="1314.5,225.4 1321.2,262.8 1314.5,307.2 1307.8,262.8" fill="#FFC62E"/>
<polygon points="1322.7,183 1329.4,218.4 1322.7,269.8 1316,218.4" fill="#FFC62E"/>
<polygon points="1328.5,209 1335.2,244 1328.5,297.8 1321.8,244" fill="#FFC62E"/>
<polygon points="1331.6,79.7 1338.3,92.6 1331.6,106.6 1324.9,92.6" fill="#FF8400"/>
<polygon points="1335.1,118.3 1341.8,153.3 1335.1,194.2 1328.4,153.3" fill="#FFC62E"/>
<polygon points="1341.8,213 1348.5,300 1341.8,548 1335.1,300" fill="#FFC62E"/>
<polygon points="1349,199.7 1355.7,270 1349,560 1342.3,270" fill="#FFC62E"/>
<polygon points="1345,440 1349,640 1345,840 1341,640" fill="#FF8400"/>
<polygon points="1353,513 1358.5,700 1353,890 1347.5,700" fill="#FF8400"/>
<polygon points="1359.6,91.9 1366.3,107.8 1359.6,123.7 1352.9,107.8" fill="#FF8400"/>
<polygon points="1373.6,66.2 1380.3,91.4 1373.6,132.3 1366.9,91.4" fill="#FF8400"/>
<polygon points="1380.4,48.9 1387.1,65.7 1380.4,87.9 1373.7,65.7" fill="#FF8400"/>
<polygon points="1383.5,123 1390.2,137 1383.5,156.8 1376.8,137" fill="#FFC62E"/>
<polygon points="1390.5,120.6 1397.2,133.5 1390.5,152.2 1383.8,133.5" fill="#FFC62E"/>
<polygon points="1398.2,132.3 1404.9,145.2 1398.2,161.5 1391.5,145.2" fill="#FFC62E"/>
<polygon points="1401.7,171 1408.4,283 1401.7,349 1395,283" fill="#FF8400"/>
<polygon points="1406.8,223 1413.5,248.8 1406.8,272 1400.1,248.8" fill="#FFC62E"/>
<polygon points="1432,206 1438.7,243 1432,280 1425.3,243" fill="#FFC62E"/>
<polygon points="1439,136 1445.7,183 1439,230 1432.3,183" fill="#FFC62E"/>
<polygon points="1446,156 1452.7,186 1446,216 1439.3,186" fill="#FFC62E"/>
<polygon points="1450,183 1456.7,201 1450,219 1443.3,201" fill="#FF8400"/>
<polygon points="1454.5,181 1461.2,207 1454.5,233 1447.8,207" fill="#FFC62E"/>
<polygon points="1463.6,131 1470.3,180 1463.6,229 1456.9,180" fill="#FF8400"/>
<polygon points="1460.4,245 1467.1,327 1460.4,409 1453.7,327" fill="#FFC62E"/>
<polygon points="1465.7,272 1472.4,300 1465.7,326 1459,300" fill="#FFC62E"/>
<polygon points="1511.3,262.8 1518,283.8 1511.3,311.8 1504.6,283.8" fill="#FFC62E"/>
<polygon points="1469.2,202 1475.9,258 1469.2,300 1462.5,258" fill="#FF8400"/>
<polygon points="1477.4,211 1484.1,240 1477.4,316 1470.7,240" fill="#FF8400"/>
<polygon points="1484.7,241 1491.4,262 1484.7,283 1478,262" fill="#FF8400"/>
<polygon points="1487.5,300 1494.2,333 1487.5,366 1480.8,333" fill="#FFC62E"/>
<polygon points="1491.5,400 1498.5,595 1491.5,800 1484.5,595" fill="#FF8400"/>
<polygon points="1499,270 1505.7,293 1499,316 1492.3,293" fill="#FF8400"/>
<polygon points="1501.6,290 1508.3,380 1501.6,470 1494.9,380" fill="#FFC62E"/>
<polygon points="1505.5,201 1512.2,245 1505.5,289 1498.8,245" fill="#FF8400"/>
<polygon points="1512.5,153 1519.2,183 1512.5,213 1505.8,183" fill="#FF8400"/>
<polygon points="1522.8,243 1529.5,265 1522.8,287 1516.1,265" fill="#FFC62E"/>
<polygon points="1526.3,167 1533,210 1526.3,253 1519.6,210" fill="#FF8400"/>
<polygon points="1532.5,119 1539.2,149 1532.5,179 1525.8,149" fill="#FF8400"/>
<polygon points="1540.3,100 1547,140 1540.3,180 1533.6,140" fill="#FF8400"/>
<polygon points="1538.2,188 1544.9,211 1538.2,234 1531.5,211" fill="#FFC62E"/>
<polygon points="1529.6,250 1536.3,450 1529.6,650 1522.9,450" fill="#FFC62E"/>
<polygon points="1555,157 1561.7,290 1555,458 1548.3,290" fill="#FF8400"/>
<polygon points="1543.8,185 1550.5,270 1543.8,378 1537.1,270" fill="#FF8400"/>
<polygon points="1549.9,154.5 1556.6,170 1549.9,192 1543.2,170" fill="#FFC62E"/>
<polygon points="1561.6,127 1568.3,143 1561.6,159 1554.9,143" fill="#FF8400"/>
<polygon points="1565,178 1571.7,210 1565,240 1558.3,210" fill="#FFC62E"/>
<polygon points="1571.7,195 1578.4,215 1571.7,235 1565,215" fill="#FFC62E"/>
<polygon points="1575.3,117 1582,143 1575.3,169 1568.6,143" fill="#FF8400"/>
<polygon points="1582,154 1588.7,175 1582,196 1575.3,175" fill="#FF8400"/>
<polygon points="1595.9,59.9 1602.6,79.7 1595.9,119.5 1589.2,79.7" fill="#FF8400"/>
<polygon points="1602.5,92 1609.2,108 1602.5,124 1595.8,108" fill="#FF8400"/>
<polygon points="1609.5,98.4 1616.2,125 1609.5,192 1602.8,125" fill="#FF8400"/>
<polygon points="1616.6,92 1623.3,123 1616.6,154 1609.9,123" fill="#FF8400"/>
<polygon points="1630.9,86 1637.6,101 1630.9,116 1624.2,101" fill="#FF8400"/>
<polygon points="1633.6,132 1640.3,170 1633.6,208 1626.9,170" fill="#FFC62E"/>
<polygon points="1641,139 1647.7,161 1641,183 1634.3,161" fill="#FFC62E"/>
<polygon points="1623,194 1629.7,277 1623,360 1616.3,277" fill="#FF8400"/>
<polygon points="1411.5,144 1418.2,165 1411.5,193 1404.8,165" fill="#FFC62E"/>
<polygon points="1416.5,97.3 1423.2,117.1 1416.5,152.2 1409.8,117.1" fill="#FFC62E"/>
<polygon points="1425.4,103 1432.1,120 1425.4,137 1418.7,120" fill="#FFC62E"/>
<polygon points="1651.5,86 1658.2,130 1651.5,165 1644.8,130" fill="#FF8400"/>
<polygon points="1659,132 1665.7,162 1659,192 1652.3,162" fill="#FF8400"/>
<polygon points="1647.3,150 1654,225 1647.3,300 1640.6,225" fill="#FFC62E"/>
<polygon points="1666,164 1672.7,248 1666,332 1659.3,248" fill="#FF8400"/>
<polygon points="1673,160 1679.7,216 1673,272 1666.3,216" fill="#FF8400"/>
<polygon points="1686.1,212 1692.8,249 1686.1,286 1679.4,249" fill="#FF8400"/>
<polygon points="1678.7,275 1685.4,363 1678.7,451 1672,363" fill="#FF8400"/>
<polygon points="1691.7,280 1698.4,349 1691.7,418 1685,349" fill="#FF8400"/>
<polygon points="1700,287 1706.7,320 1700,353 1693.3,320" fill="#FF8400"/>
<polygon points="1696.4,386 1703.1,435 1696.4,484 1689.7,435" fill="#FFC62E"/>
<polygon points="1707.2,211 1713.9,244 1707.2,277 1700.5,244" fill="#FF8400"/>
<polygon points="1714.2,183 1720.9,206 1714.2,229 1707.5,206" fill="#FF8400"/>
<polygon points="1721.2,122 1727.9,192 1721.2,262 1714.5,192" fill="#FF8400"/>
<polygon points="1728.2,206 1734.9,239 1728.2,272 1721.5,239" fill="#FF8400"/>
<polygon points="1724.5,234 1731.2,260 1724.5,286 1717.8,260" fill="#FFC62E"/>
<polygon points="1731.5,169 1738.2,195 1731.5,221 1724.8,195" fill="#FFC62E"/>
<polygon points="1738.5,168 1745.2,187 1738.5,206 1731.8,187" fill="#FFC62E"/>
<polygon points="1735.2,133 1741.9,152 1735.2,171 1728.5,152" fill="#FF8400"/>
<polygon points="1745.5,216 1752.2,251 1745.5,286 1738.8,251" fill="#FFC62E"/>
<polygon points="1740.8,94 1747.5,109 1740.8,124 1734.1,109" fill="#FF8400"/>
<polygon points="1748.8,82.5 1755.5,100 1748.8,117.5 1742.1,100" fill="#FF8400"/>
<polygon points="1755.8,94 1762.5,108 1755.8,122 1749.1,108" fill="#3554F0"/>
<polygon points="1759.5,111 1766.2,126 1759.5,141 1752.8,126" fill="#FFC62E"/>
<polygon points="1752.5,152 1759.2,172 1752.5,192 1745.8,172" fill="#FFC62E"/>
<polygon points="1766.6,151 1773.3,166 1766.6,181 1759.9,166" fill="#FFC62E"/>
<polygon points="1773.6,169 1780.3,197 1773.6,225 1766.9,197" fill="#FFC62E"/>
<polygon points="1762.8,56 1769.5,68 1762.8,80 1756.1,68" fill="#3554F0"/>
<polygon points="1769.8,39 1776.5,45.5 1769.8,52 1763.1,45.5" fill="#3554F0"/>
<polygon points="1776.8,50 1783.5,64 1776.8,78 1770.1,64" fill="#3554F0"/>
<polygon points="1790.5,205 1793.6,280 1796.6,490 1794.5,660 1786.5,660 1784.4,490 1787.4,280" fill="#3554F0"/>
<polygon points="1783.3,96.6 1790,131 1783.3,235 1776.6,131" fill="#3554F0"/>
<polygon points="1796.9,48.7 1803.6,71 1796.9,144.5 1790.2,71" fill="#3554F0"/>
<polygon points="1805,61 1811.7,74 1805,87 1798.3,74" fill="#3554F0"/>
<polygon points="1812,103.6 1818.7,122.3 1812,165.5 1805.3,122.3" fill="#3554F0"/>
<polygon points="1825.6,56.9 1832.3,76.7 1825.6,161 1818.9,76.7" fill="#3554F0"/>
<polygon points="1832,75 1838.7,88 1832,101 1825.3,88" fill="#FF8400"/>
<polygon points="1847,71 1853.7,127 1847,183 1840.3,127" fill="#FF8400"/>
<polygon points="1836.7,136 1843.4,150 1836.7,164 1830,150" fill="#FFC62E"/>
<polygon points="1818,155 1824.7,171 1818,187 1811.3,171" fill="#FFC62E"/>
<polygon points="1813.3,165 1820,180 1813.3,195 1806.6,180" fill="#FFC62E"/>
<polygon points="1839,111.8 1845.7,154 1839,228 1832.3,154" fill="#FF8400"/>
<polygon points="1828.7,188 1835.4,209 1828.7,230 1822,209" fill="#FFC62E"/>
<polygon points="1808.5,190 1815.2,245 1808.5,395 1801.8,245" fill="#FFC62E"/>
<polygon points="1800.4,208 1807.1,237 1800.4,274 1793.7,237" fill="#FFC62E"/>
<polygon points="1853,164 1859.7,218 1853,272 1846.3,218" fill="#FF8400"/>
<polygon points="1860,99 1866.7,125 1860,151 1853.3,125" fill="#FF8400"/>
<polygon points="1867,178 1873.7,248 1867,318 1860.3,248" fill="#FF8400"/>
<polygon points="1874,132 1880.7,183 1874,234 1867.3,183" fill="#FF8400"/>
<polygon points="1881,198 1887.7,320 1881,442 1874.3,320" fill="#FF8400"/>
<polygon points="1888,189.5 1894.7,207 1888,224.5 1881.3,207" fill="#FF8400"/>
<polygon points="1895,272 1901.7,315 1895,358 1888.3,315" fill="#FF8400"/>
<polygon points="1902,300 1908.7,336 1902,372 1895.3,336" fill="#FF8400"/>
<polygon points="1909,225 1915.7,267 1909,309 1902.3,267" fill="#FF8400"/>
<polygon points="1916,222.5 1922.7,235.5 1916,248.5 1909.3,235.5" fill="#FF8400"/>
<polygon points="1929.2,136 1935.9,150 1929.2,164 1922.5,150" fill="#FF8400"/>
<polygon points="1936.9,125.8 1943.6,139.8 1936.9,170.2 1930.2,139.8" fill="#FF8400"/>
<polygon points="1943.3,68 1950,80 1943.3,92 1936.6,80" fill="#FF8400"/>
<polygon points="1957.3,80 1964,102 1957.3,124 1950.6,102" fill="#FF8400"/>
<polygon points="1964.3,127 1971,185 1964.3,243 1957.6,185" fill="#FF8400"/>
<polygon points="1957.3,153 1964,176 1957.3,199 1950.6,176" fill="#FFC62E"/>
<polygon points="1971.5,69.7 1978.2,95.4 1971.5,163 1964.8,95.4" fill="#3554F0"/>
<polygon points="1978.5,76.7 1985.2,94.3 1978.5,124.6 1971.8,94.3" fill="#3554F0"/>
<polygon points="1981.6,129 1988.3,142 1981.6,155 1974.9,142" fill="#FFC62E"/>
<polygon points="1975,208 1981.7,255 1975,372 1968.3,255" fill="#FFC62E"/>
<polygon points="2000.3,66 2007,85 2000.3,104 1993.6,85" fill="#3554F0"/>
<polygon points="2006.4,84 2013.1,103 2006.4,122 1999.7,103" fill="#3554F0"/>
<polygon points="2014.3,75 2021,84 2014.3,93 2007.6,84" fill="#3554F0"/>
<polygon points="2020.4,57 2027.1,64 2020.4,71 2013.7,64" fill="#3554F0"/>
<polygon points="2026.4,62.7 2033.1,81.4 2026.4,116.5 2019.7,81.4" fill="#3554F0"/>
<polygon points="2033.9,68.6 2040.6,88.4 2033.9,139.8 2027.2,88.4" fill="#3554F0"/>
<polygon points="2041.4,89 2048.1,115 2041.4,141 2034.7,115" fill="#FF8400"/>
<polygon points="2047.9,94.3 2054.6,111.8 2047.9,160.9 2041.2,111.8" fill="#FF8400"/>
<polygon points="2037.7,136 2044.4,150 2037.7,164 2031,150" fill="#FFC62E"/>
<polygon points="2043.8,174 2050.5,190 2043.8,206 2037.1,190" fill="#FFC62E"/>
<polygon points="2050.8,192 2057.5,220 2050.8,248 2044.1,220" fill="#FFC62E"/>
<polygon points="2058.3,182 2065,211 2058.3,240 2051.6,211" fill="#FFC62E"/>
<polygon points="2064.4,196 2071.1,217 2064.4,238 2057.7,217" fill="#FFC62E"/>
<polygon points="2072.8,189 2079.5,216 2072.8,243 2066.1,216" fill="#FFC62E"/>
<polygon points="2068.6,117 2075.3,157 2068.6,197 2061.9,157" fill="#FF8400"/>
<polygon points="2024,216.5 2030.7,257 2024,330 2017.3,257" fill="#FFC62E"/>
<polygon points="1366.6,242.9 1373.3,288.5 1366.6,332.9 1359.9,288.5" fill="#FF0A8C"/>
<polygon points="1638,274 1644.7,311 1638,348 1631.3,311" fill="#FF0A8C"/>
<polygon points="1385.8,155.7 1391.3,165 1385.8,180.2 1380.3,165" fill="#00EE8C"/>
<polygon points="1394,146.3 1400.2,165 1394,191.9 1387.8,165" fill="#F00000"/>
</g>
<path d="M1227.5 654.1v-11M1227.5 10.3v11M1262.3 654.1v-11M1262.3 10.3v11M1297 654.1v-11M1297 10.3v11M1331.8 654.1v-22M1331.8 10.3v22M1366.5 654.1v-11M1366.5 10.3v11M1401.3 654.1v-11M1401.3 10.3v11M1436 654.1v-11M1436 10.3v11M1470.8 654.1v-22M1470.8 10.3v22M1505.5 654.1v-11M1505.5 10.3v11M1540.3 654.1v-11M1540.3 10.3v11M1575 654.1v-11M1575 10.3v11M1609.8 654.1v-22M1609.8 10.3v22M1644.5 654.1v-11M1644.5 10.3v11M1679.3 654.1v-11M1679.3 10.3v11M1714 654.1v-11M1714 10.3v11M1748.8 654.1v-22M1748.8 10.3v22M1783.5 654.1v-11M1783.5 10.3v11M1818.3 654.1v-11M1818.3 10.3v11M1853 654.1v-11M1853 10.3v11M1887.8 654.1v-22M1887.8 10.3v22M1922.5 654.1v-11M1922.5 10.3v11M1957.3 654.1v-11M1957.3 10.3v11M1992 654.1v-11M1992 10.3v11M2026.8 654.1v-22M2026.8 10.3v22M2061.6 654.1v-11M2061.6 10.3v11M1192.8 632.6h11M2096.5 632.6h-11M1192.8 611.2h11M2096.5 611.2h-11M1192.8 589.7h11M2096.5 589.7h-11M1192.8 568.3h11M2096.5 568.3h-11M1192.8 546.8h22M2096.5 546.8h-22M1192.8 525.3h11M2096.5 525.3h-11M1192.8 503.9h11M2096.5 503.9h-11M1192.8 482.4h11M2096.5 482.4h-11M1192.8 461h11M2096.5 461h-11M1192.8 439.5h22M2096.5 439.5h-22M1192.8 418h11M2096.5 418h-11M1192.8 396.6h11M2096.5 396.6h-11M1192.8 375.1h11M2096.5 375.1h-11M1192.8 353.7h11M2096.5 353.7h-11M1192.8 332.2h22M2096.5 332.2h-22M1192.8 310.7h11M2096.5 310.7h-11M1192.8 289.3h11M2096.5 289.3h-11M1192.8 267.8h11M2096.5 267.8h-11M1192.8 246.4h11M2096.5 246.4h-11M1192.8 224.9h22M2096.5 224.9h-22M1192.8 203.4h11M2096.5 203.4h-11M1192.8 182h11M2096.5 182h-11M1192.8 160.5h11M2096.5 160.5h-11M1192.8 139.1h11M2096.5 139.1h-11M1192.8 117.6h22M2096.5 117.6h-22M1192.8 96.1h11M2096.5 96.1h-11M1192.8 74.7h11M2096.5 74.7h-11M1192.8 53.2h11M2096.5 53.2h-11M1192.8 31.8h11M2096.5 31.8h-11" stroke="#2a2a2a" stroke-width="1.5" fill="none"/>
<rect x="1192.8" y="10.3" width="903.7" height="643.8" fill="none" stroke="#222" stroke-width="1.6"/>
<text x="1184.8" y="661.1" text-anchor="end" textLength="24" lengthAdjust="spacingAndGlyphs">17</text>
<text x="1184.8" y="553.8" text-anchor="end" textLength="41" lengthAdjust="spacingAndGlyphs">17.5</text>
<text x="1184.8" y="446.5" text-anchor="end" textLength="24" lengthAdjust="spacingAndGlyphs">18</text>
<text x="1184.8" y="339.2" text-anchor="end" textLength="41" lengthAdjust="spacingAndGlyphs">18.5</text>
<text x="1184.8" y="231.9" text-anchor="end" textLength="24" lengthAdjust="spacingAndGlyphs">19</text>
<text x="1184.8" y="124.6" text-anchor="end" textLength="41" lengthAdjust="spacingAndGlyphs">19.5</text>
<text x="1184.8" y="17.3" text-anchor="end" textLength="24" lengthAdjust="spacingAndGlyphs">20</text>
<text x="1192.8" y="674.3" text-anchor="middle" textLength="64" lengthAdjust="spacingAndGlyphs">57900</text>
<text x="1331.8" y="674.3" text-anchor="middle" textLength="64" lengthAdjust="spacingAndGlyphs">57920</text>
<text x="1470.8" y="674.3" text-anchor="middle" textLength="64" lengthAdjust="spacingAndGlyphs">57940</text>
<text x="1609.8" y="674.3" text-anchor="middle" textLength="64" lengthAdjust="spacingAndGlyphs">57960</text>
<text x="1748.8" y="674.3" text-anchor="middle" textLength="64" lengthAdjust="spacingAndGlyphs">57980</text>
<text x="1887.8" y="674.3" text-anchor="middle" textLength="64" lengthAdjust="spacingAndGlyphs">58000</text>
<text x="2026.8" y="674.3" text-anchor="middle" textLength="64" lengthAdjust="spacingAndGlyphs">58020</text></g>
</g>
<text x="544.8" y="702.5" text-anchor="middle" textLength="39" lengthAdjust="spacingAndGlyphs">MJD</text>
<text x="1644.6" y="702.5" text-anchor="middle" textLength="39" lengthAdjust="spacingAndGlyphs">MJD</text>
<text transform="translate(21.3 384.2) rotate(-90)" text-anchor="middle" font-size="23" textLength="60" lengthAdjust="spacingAndGlyphs">FWHM</text>
<text transform="translate(21.3 295.5) rotate(-90)" text-anchor="middle" font-size="23" textLength="87" lengthAdjust="spacingAndGlyphs">[arcsec]</text>
<text transform="translate(1121.6 430.5) rotate(-90)" text-anchor="middle" font-size="23" textLength="95" lengthAdjust="spacingAndGlyphs">Limiting</text>
<text transform="translate(1121.6 307.5) rotate(-90)" text-anchor="middle" font-size="23" textLength="124" lengthAdjust="spacingAndGlyphs">magnitude</text>
<text transform="translate(1121.6 212.7) rotate(-90)" text-anchor="middle" font-size="23" textLength="42.6" lengthAdjust="spacingAndGlyphs">[5<tspan font-style="italic">σ</tspan>]</text>
</svg>
</body></html>
